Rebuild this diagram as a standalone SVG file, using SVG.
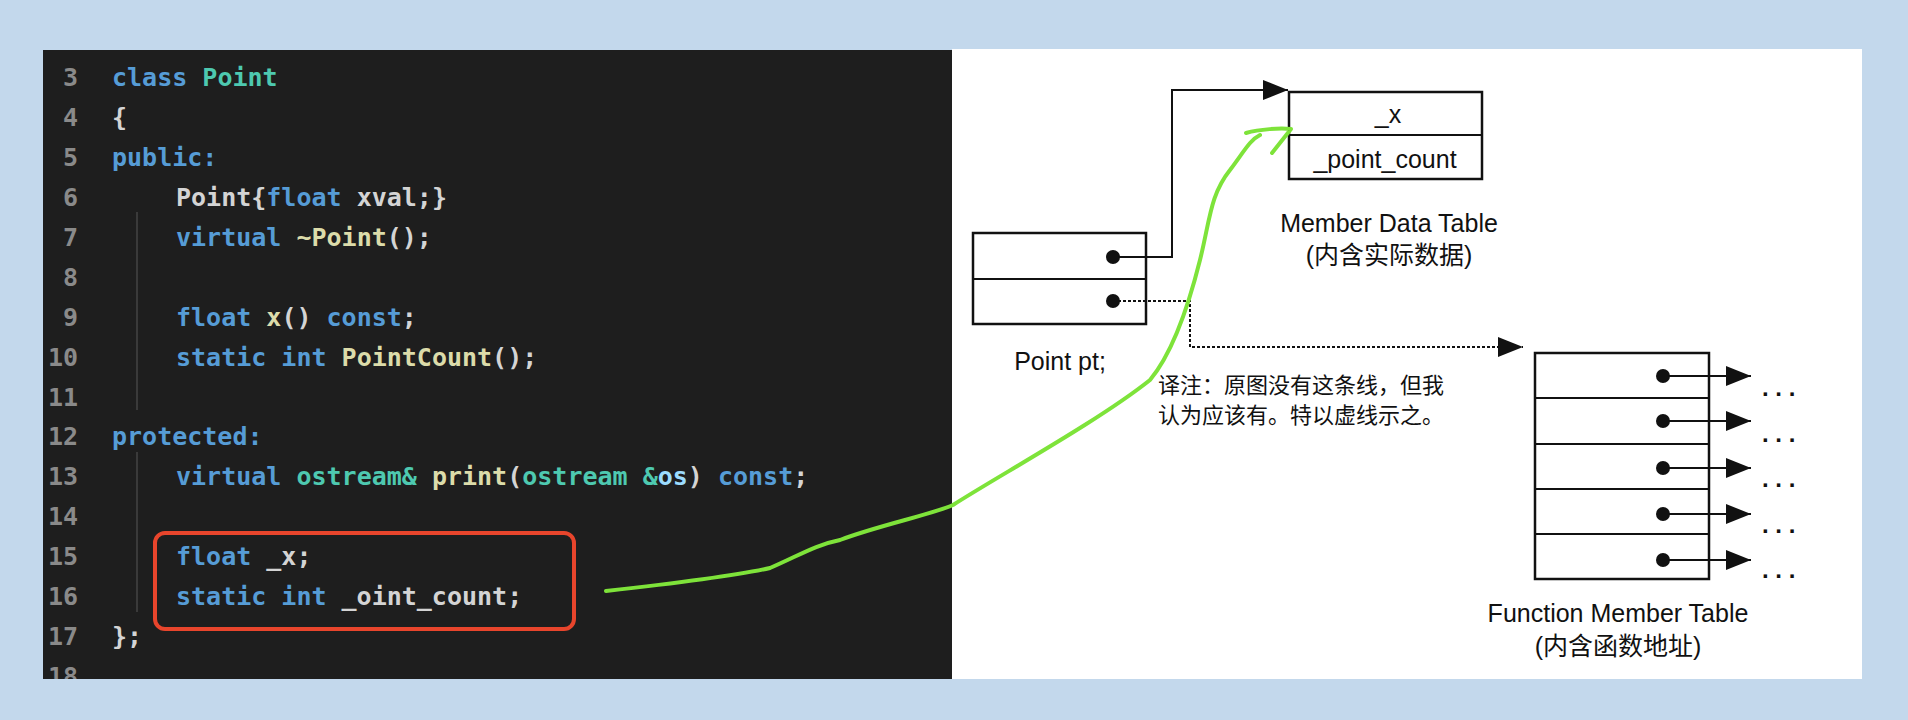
<svg xmlns="http://www.w3.org/2000/svg" width="1908" height="720" viewBox="0 0 1908 720">
<style>
.code{font-family:"DejaVu Sans Mono","Liberation Mono",monospace;font-size:25px;font-weight:bold;fill:#d4d4d4}
.ln{font-family:"DejaVu Sans Mono",monospace;font-size:25px;font-weight:bold;fill:#8a8a8a;text-anchor:end}
.k{fill:#569cd6}.t{fill:#4ec9b0}.f{fill:#dcdcaa}.v{fill:#9cdcfe}
.lbl{font-family:"Liberation Sans",Arial,"Noto Sans CJK SC",sans-serif;font-size:25px;fill:#111;text-anchor:middle}
.cn{font-family:"Liberation Sans","Noto Sans CJK SC",sans-serif;font-size:22px;fill:#111}
.box{fill:#fff;stroke:#111;stroke-width:2.5}
.ln2{stroke:#111;stroke-width:2;fill:none}
.dot{fill:#111}
.dots{font-family:"Liberation Sans",sans-serif;font-size:24px;font-weight:bold;fill:#111}
</style>
<defs>
<marker id="ah" viewBox="0 0 10 10" refX="10" refY="5" markerWidth="7" markerHeight="7" markerUnits="userSpaceOnUse" orient="auto"><path d="M0,0L10,5L0,10z" fill="#111"/></marker>
<marker id="ahb" viewBox="0 0 10 10" refX="10" refY="5" markerWidth="25" markerHeight="25" markerUnits="userSpaceOnUse" orient="auto"><path d="M0,1L10,5L0,9z" fill="#111"/></marker>
</defs>
<rect width="1908" height="720" fill="#c3d8ec"/>
<rect x="43" y="50" width="909" height="629" fill="#1e1e1e"/>
<rect x="952" y="49" width="910" height="630" fill="#fff"/>
<g id="code">
<line x1="137" y1="212" x2="137" y2="410" stroke="#444" stroke-width="1.5"/>
<line x1="137" y1="452" x2="137" y2="612" stroke="#444" stroke-width="1.5"/>
<text class="ln" x="78" y="86">3</text><text class="code" x="112" y="86"><tspan class="k">class</tspan> <tspan class="t">Point</tspan></text>
<text class="ln" x="78" y="126">4</text><text class="code" x="112" y="126">{</text>
<text class="ln" x="78" y="166">5</text><text class="code k" x="112" y="166">public:</text>
<text class="ln" x="78" y="206">6</text><text class="code" x="176" y="206">Point{<tspan class="k">float</tspan> xval;}</text>
<text class="ln" x="78" y="246">7</text><text class="code" x="176" y="246"><tspan class="k">virtual</tspan> <tspan class="f">~Point</tspan>();</text>
<text class="ln" x="78" y="286">8</text>
<text class="ln" x="78" y="326">9</text><text class="code" x="176" y="326"><tspan class="k">float</tspan> <tspan class="f">x</tspan>() <tspan class="k">const</tspan>;</text>
<text class="ln" x="78" y="366">10</text><text class="code" x="176" y="366"><tspan class="k">static int</tspan> <tspan class="f">PointCount</tspan>();</text>
<text class="ln" x="78" y="406">11</text>
<text class="ln" x="78" y="445">12</text><text class="code k" x="112" y="445">protected:</text>
<text class="ln" x="78" y="485">13</text><text class="code" x="176" y="485"><tspan class="k">virtual</tspan> <tspan class="t">ostream&amp;</tspan> <tspan class="f">print</tspan>(<tspan class="t">ostream</tspan> <tspan class="t">&amp;</tspan><tspan class="v">os</tspan>) <tspan class="k">const</tspan>;</text>
<text class="ln" x="78" y="525">14</text>
<text class="ln" x="78" y="565">15</text><text class="code" x="176" y="565"><tspan class="k">float</tspan> _x;</text>
<text class="ln" x="78" y="605">16</text><text class="code" x="176" y="605"><tspan class="k">static int</tspan> _oint_count;</text>
<text class="ln" x="78" y="645">17</text><text class="code" x="112" y="645">};</text>
<text class="ln" x="78" y="685">18</text>
</g>
<rect x="43" y="679" width="909" height="41" fill="#c3d8ec"/>
<rect id="highlight" x="155" y="533" width="419" height="96" rx="10" fill="none" stroke="#e8452c" stroke-width="4"/>
<g id="point-pt">
<rect class="box" x="973" y="233" width="173" height="91"/>
<line class="ln2" x1="973" y1="279" x2="1146" y2="279"/>
<circle class="dot" cx="1113" cy="257" r="7"/>
<circle class="dot" cx="1113" cy="301" r="7"/>
<text class="lbl" x="1060" y="370">Point pt;</text>
</g>
<g id="member-data-table">
<rect class="box" x="1289" y="92" width="193" height="87"/>
<line class="ln2" x1="1289" y1="135" x2="1482" y2="135"/>
<text class="lbl" x="1388" y="123">_x</text>
<text class="lbl" x="1385" y="168">_point_count</text>
<text class="lbl" x="1389" y="232">Member Data Table</text>
<text class="lbl" x="1389" y="264">(内含实际数据)</text>
</g>
<g id="function-member-table">
<rect class="box" x="1535" y="353" width="174" height="226"/>
<line class="ln2" x1="1535" y1="398" x2="1709" y2="398"/>
<line class="ln2" x1="1535" y1="444" x2="1709" y2="444"/>
<line class="ln2" x1="1535" y1="489" x2="1709" y2="489"/>
<line class="ln2" x1="1535" y1="534" x2="1709" y2="534"/>
<g id="fn-rows">
<circle class="dot" cx="1663" cy="376" r="7"/><line class="ln2" x1="1663" y1="376" x2="1751" y2="376" marker-end="url(#ahb)"/><text class="dots" x="1762" y="396">. . .</text>
<circle class="dot" cx="1663" cy="421" r="7"/><line class="ln2" x1="1663" y1="421" x2="1751" y2="421" marker-end="url(#ahb)"/><text class="dots" x="1762" y="442">. . .</text>
<circle class="dot" cx="1663" cy="468" r="7"/><line class="ln2" x1="1663" y1="468" x2="1751" y2="468" marker-end="url(#ahb)"/><text class="dots" x="1762" y="487">. . .</text>
<circle class="dot" cx="1663" cy="514" r="7"/><line class="ln2" x1="1663" y1="514" x2="1751" y2="514" marker-end="url(#ahb)"/><text class="dots" x="1762" y="533">. . .</text>
<circle class="dot" cx="1663" cy="560" r="7"/><line class="ln2" x1="1663" y1="560" x2="1751" y2="560" marker-end="url(#ahb)"/><text class="dots" x="1762" y="578">. . .</text>
</g>
<text class="lbl" x="1618" y="622">Function Member Table</text>
<text class="lbl" x="1618" y="655">(内含函数地址)</text>
</g>
<g id="note">
<text class="cn" x="1158" y="393">译注：原图没有这条线，但我</text>
<text class="cn" x="1158" y="423">认为应该有。特以虚线示之。</text>
</g>
<g id="connectors">
<path class="ln2" d="M1113,257H1172V90H1288" marker-end="url(#ahb)"/>
<path class="ln2" d="M1113,301H1190V347H1523" stroke-dasharray="3,2" stroke-width="2.5" marker-end="url(#ahb)"/>
<path d="M606,591C660,585 730,577 770,568C800,555 815,545 840,540C880,525 930,515 953,505C1000,475 1100,420 1150,380C1175,350 1190,300 1200,260C1210,220 1210,195 1230,170C1245,150 1250,140 1260,135" fill="none" stroke="#7ee33a" stroke-width="4" stroke-linecap="round"/>
<path d="M1246,133C1260,129 1280,128 1291,129L1272,153" fill="none" stroke="#7ee33a" stroke-width="4" stroke-linecap="round" stroke-linejoin="round"/>
</g>
</svg>
